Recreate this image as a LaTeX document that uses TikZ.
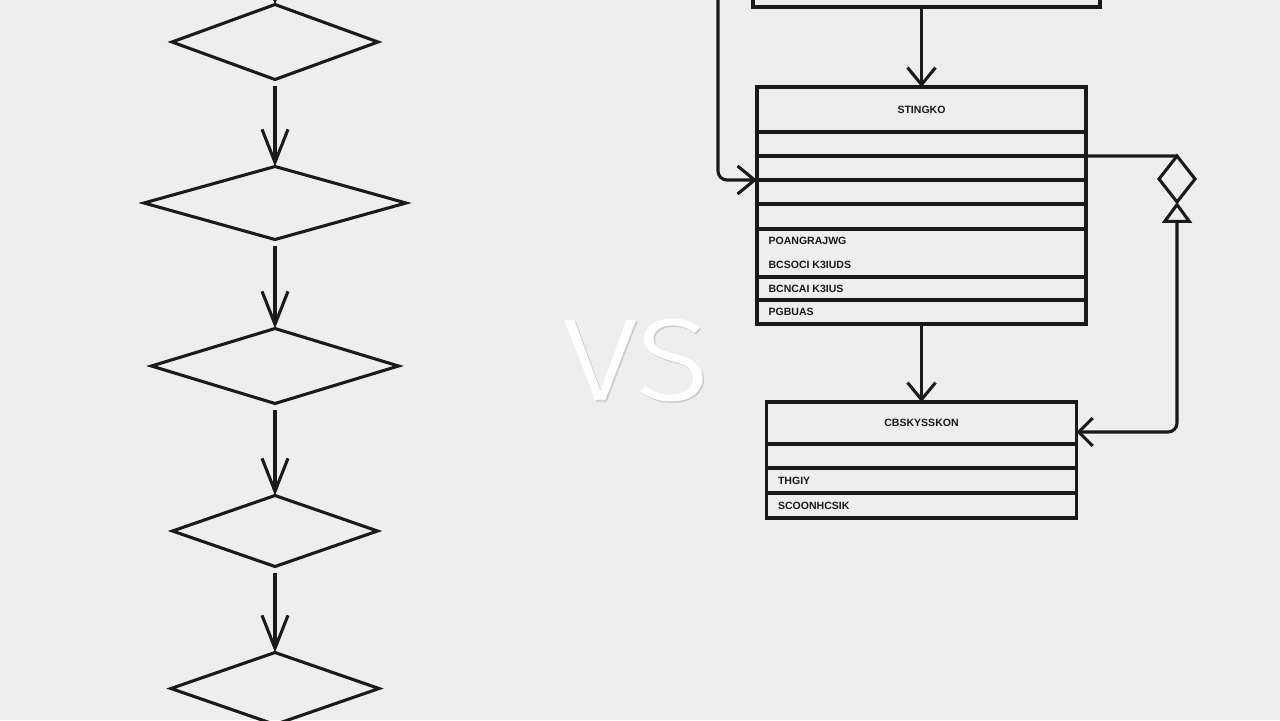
\documentclass[tikz,border=0pt]{standalone}
\usepackage{fontspec}
\setsansfont{Liberation Sans}
\newfontfamily\vsfont[FakeBold=0.8]{Fira Sans Light}
\usetikzlibrary{arrows.meta,positioning,shapes.geometric}
\newlength\pxu
\setlength\pxu{0.02cm}
\definecolor{paper}{RGB}{238,238,238}
\definecolor{ink}{RGB}{26,26,26}
\tikzset{
    headarrow/.style = {-{Straight Barb[length=0.66cm,width=0.52cm]}},
    sidearrow/.style = {-{Straight Barb[length=0.34cm,width=0.56cm]}},
    dia/.style = {draw, diamond, inner sep=0pt, outer sep=0pt},
    cell/.style = {draw, rectangle, inner sep=0pt, outer sep=0pt},
    sbox/.style = {cell, minimum width=329\pxu, minimum height=#1},
    ebox/.style = {cell, minimum width=310\pxu, minimum height=#1},
    rowtext/.style = {font=\sffamily\bfseries\fontsize{6}{7}\selectfont, text=ink, inner sep=0pt},
    vstext/.style = {font=\vsfont\fontsize{66}{66}\selectfont, inner sep=0pt, xscale=1.18}
}

\begin{document}
\begin{tikzpicture}[x=\pxu, y=-\pxu, line width=1.75pt, ink]
    \useasboundingbox[fill=paper] (0,0) rectangle (1280,720);
    \clip (0,0) rectangle (1280,720);

    \node[dia, minimum width=206\pxu, minimum height=75\pxu] (D1) at (275,42) {};
    \node[dia, minimum width=262\pxu, minimum height=73\pxu, below=87\pxu of D1] (D2) {};
    \node[dia, minimum width=247\pxu, minimum height=75\pxu, below=89\pxu of D2] (D3) {};
    \node[dia, minimum width=205\pxu, minimum height=71\pxu, below=92\pxu of D3] (D4) {};
    \node[dia, minimum width=208\pxu, minimum height=72\pxu, below=86\pxu of D4] (D5) {};
    \coordinate (D0) at (275,-40);

    \draw[headarrow] (D0) -- (D1);
    \draw[headarrow, shorten <=6\pxu] (D1) -- (D2);
    \draw[headarrow, shorten <=6\pxu] (D2) -- (D3);
    \draw[headarrow, shorten <=6\pxu] (D3) -- (D4);
    \draw[headarrow, shorten <=6\pxu] (D4) -- (D5);

    \node[vstext, text=black!20] (VSs) at (637.5,361.5) {VS};
    \node[vstext, text=white] (VS) at (636,360) {VS};

    \node[cell, minimum width=347\pxu, minimum height=60\pxu, anchor=south] (T) at (926.5,7) {};

    \node[sbox=45\pxu, rowtext, anchor=north] (S1) at (921.5,87) {STINGKO};
    \node[sbox=24\pxu, below=0pt of S1] (S2) {};
    \node[sbox=24\pxu, below=0pt of S2] (S3) {};
    \node[sbox=24\pxu, below=0pt of S3] (S4) {};
    \node[sbox=25\pxu, below=0pt of S4] (S5) {};
    \node[sbox=48\pxu, below=0pt of S5] (S6) {};
    \node[sbox=23\pxu, below=0pt of S6] (S7) {};
    \node[sbox=24\pxu, below=0pt of S7] (S8) {};
    \node[rowtext, font=\sffamily\bfseries\fontsize{6}{13.6}\selectfont, align=left, right=10\pxu of S6.west] (P1) {POANGRAJWG\\BCSOCI K3IUDS};
    \node[rowtext, right=10\pxu of S7.west] (P3) {BCNCAI K3IUS};
    \node[rowtext, right=10\pxu of S8.west] (P4) {PGBUAS};

    \node[ebox=42\pxu, rowtext, below=78\pxu of S8] (E1) {CBSKYSSKON};
    \node[ebox=24\pxu, below=0pt of E1] (E2) {};
    \node[ebox=25\pxu, below=0pt of E2] (E3) {};
    \node[ebox=25\pxu, below=0pt of E3] (E4) {};
    \node[rowtext, right=10\pxu of E3.west] (Q1) {THGIY};
    \node[rowtext, right=10\pxu of E4.west] (Q2) {SCOONHCSIK};

    \node[dia, minimum width=36\pxu, minimum height=46\pxu, anchor=north] (X) at (1177,156) {};
    \coordinate (L) at (718,-20);

    \draw[sidearrow] (T.south -| S1.north) -- (S1.north);
    \draw[sidearrow] (S8) -- (E1);
    \draw[sidearrow, rounded corners=9\pxu] (L) |- (S4.north west);
    \draw (S3.north east) -- (X.north);
    \draw[{Triangle[open,length=0.42cm,width=0.6cm]}-{Straight Barb[length=0.28cm,width=0.56cm]}, rounded corners=9\pxu] (X.south) |- ([yshift=-9\pxu]E1.east);
\end{tikzpicture}
\end{document}
